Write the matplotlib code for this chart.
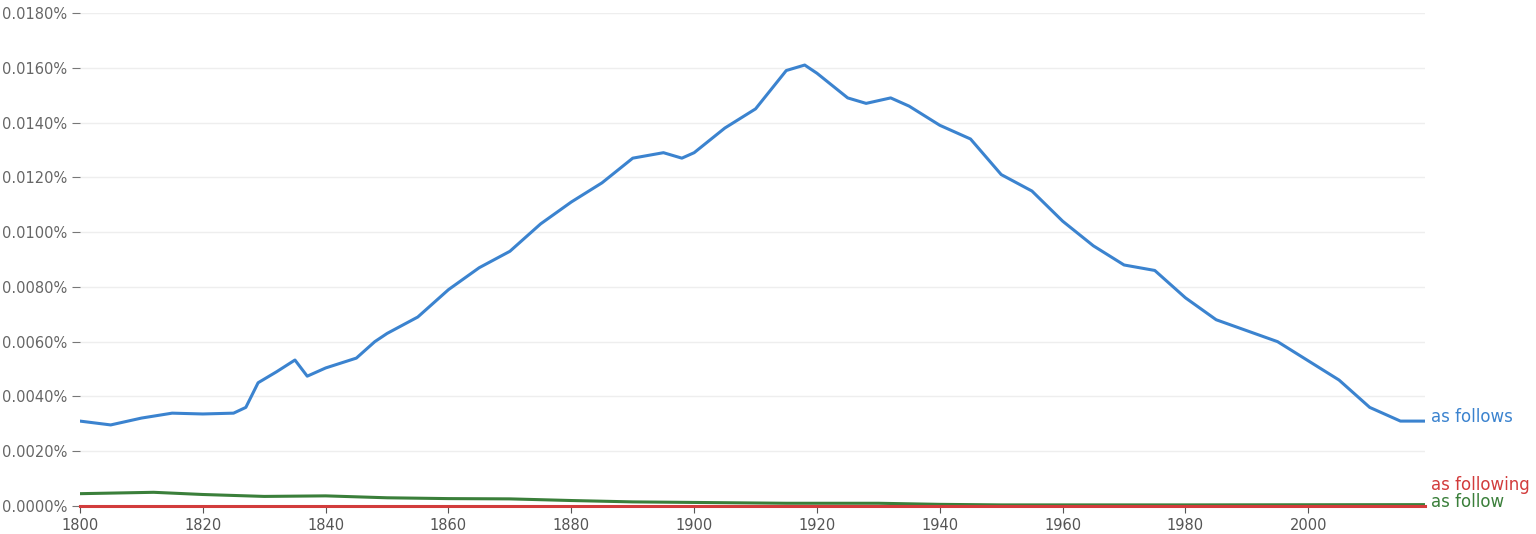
import matplotlib
matplotlib.use("Agg")
import matplotlib.pyplot as plt
from matplotlib.ticker import FuncFormatter

years_follows = [1800, 1805, 1810, 1815, 1820, 1825, 1827, 1829, 1832, 1835, 1837, 1840,
                 1845, 1848, 1850, 1855, 1860, 1865, 1870, 1875, 1880, 1885, 1890, 1895,
                 1898, 1900, 1905, 1910, 1915, 1918, 1920, 1925, 1928, 1932, 1935, 1940,
                 1945, 1950, 1955, 1960, 1965, 1970, 1975, 1980, 1985, 1990, 1995, 2000,
                 2005, 2010, 2015, 2019]
as_follows = [0.00310, 0.00296, 0.00321, 0.00339, 0.00336, 0.00339, 0.00360, 0.00450,
              0.00490, 0.00533, 0.00474, 0.00504, 0.00540, 0.00600, 0.00630, 0.00690,
              0.00790, 0.00870, 0.00930, 0.01030, 0.01110, 0.01180, 0.01270, 0.01290,
              0.01270, 0.01290, 0.01380, 0.01450, 0.01590, 0.01610, 0.01580, 0.01490,
              0.01470, 0.01490, 0.01460, 0.01390, 0.01340, 0.01210, 0.01150, 0.01040,
              0.00950, 0.00880, 0.00860, 0.00760, 0.00680, 0.00640, 0.00600, 0.00530,
              0.00460, 0.00360, 0.00310, 0.00310]

years_follow = [1800, 1812, 1820, 1830, 1840, 1850, 1860, 1870, 1880, 1890, 1900, 1915,
                1930, 1940, 1950, 1980, 2019]
as_follow = [0.00045, 0.00050, 0.00042, 0.00035, 0.00037, 0.00030, 0.00027, 0.00026,
             0.00020, 0.00015, 0.00013, 0.00010, 0.00010, 0.00006, 0.00004, 0.00004,
             0.00005]

years_following = [1800, 1900, 2019]
as_following = [0.000002, 0.000002, 0.000002]

fig = plt.figure(figsize=(15.36, 5.34), dpi=100)
ax = fig.add_axes([80 / 1536, 28 / 534, 1345 / 1536, 493 / 534])

ax.plot(years_follows, as_follows, color="#3b83cf", lw=2.2)
ax.plot(years_follow, as_follow, color="#3a7f3a", lw=2.2)
ax.plot(years_following, as_following, color="#d23c3c", lw=2.2, zorder=5, clip_on=False)

ax.set_xlim(1800, 2019)
ax.set_ylim(0, 0.018)
ax.set_xticks(range(1800, 2001, 20))
ax.set_yticks([i * 0.002 for i in range(10)])
ax.yaxis.set_major_formatter(FuncFormatter(lambda v, _: f"{v:.4f}%"))
ax.grid(axis="y", color="#eeeeee", lw=1)
ax.set_axisbelow(True)
for s in ["top", "right", "left"]:
    ax.spines[s].set_visible(False)
ax.spines["bottom"].set_color("#555555")
ax.tick_params(axis="y", length=6, color="#777777", labelcolor="#666666", labelsize=10.5, pad=3)
ax.tick_params(axis="x", length=5, color="#555555", labelcolor="#555555", labelsize=10.5)

ax.text(2020, 0.00325, "as follows", color="#3b83cf", fontsize=12, va="center", clip_on=False)
ax.text(2020, 0.00075, "as following", color="#d23c3c", fontsize=12, va="center", clip_on=False)
ax.text(2020, 0.00013, "as follow", color="#3a7f3a", fontsize=12, va="center", clip_on=False)

fig.savefig("out.png", dpi=100)
